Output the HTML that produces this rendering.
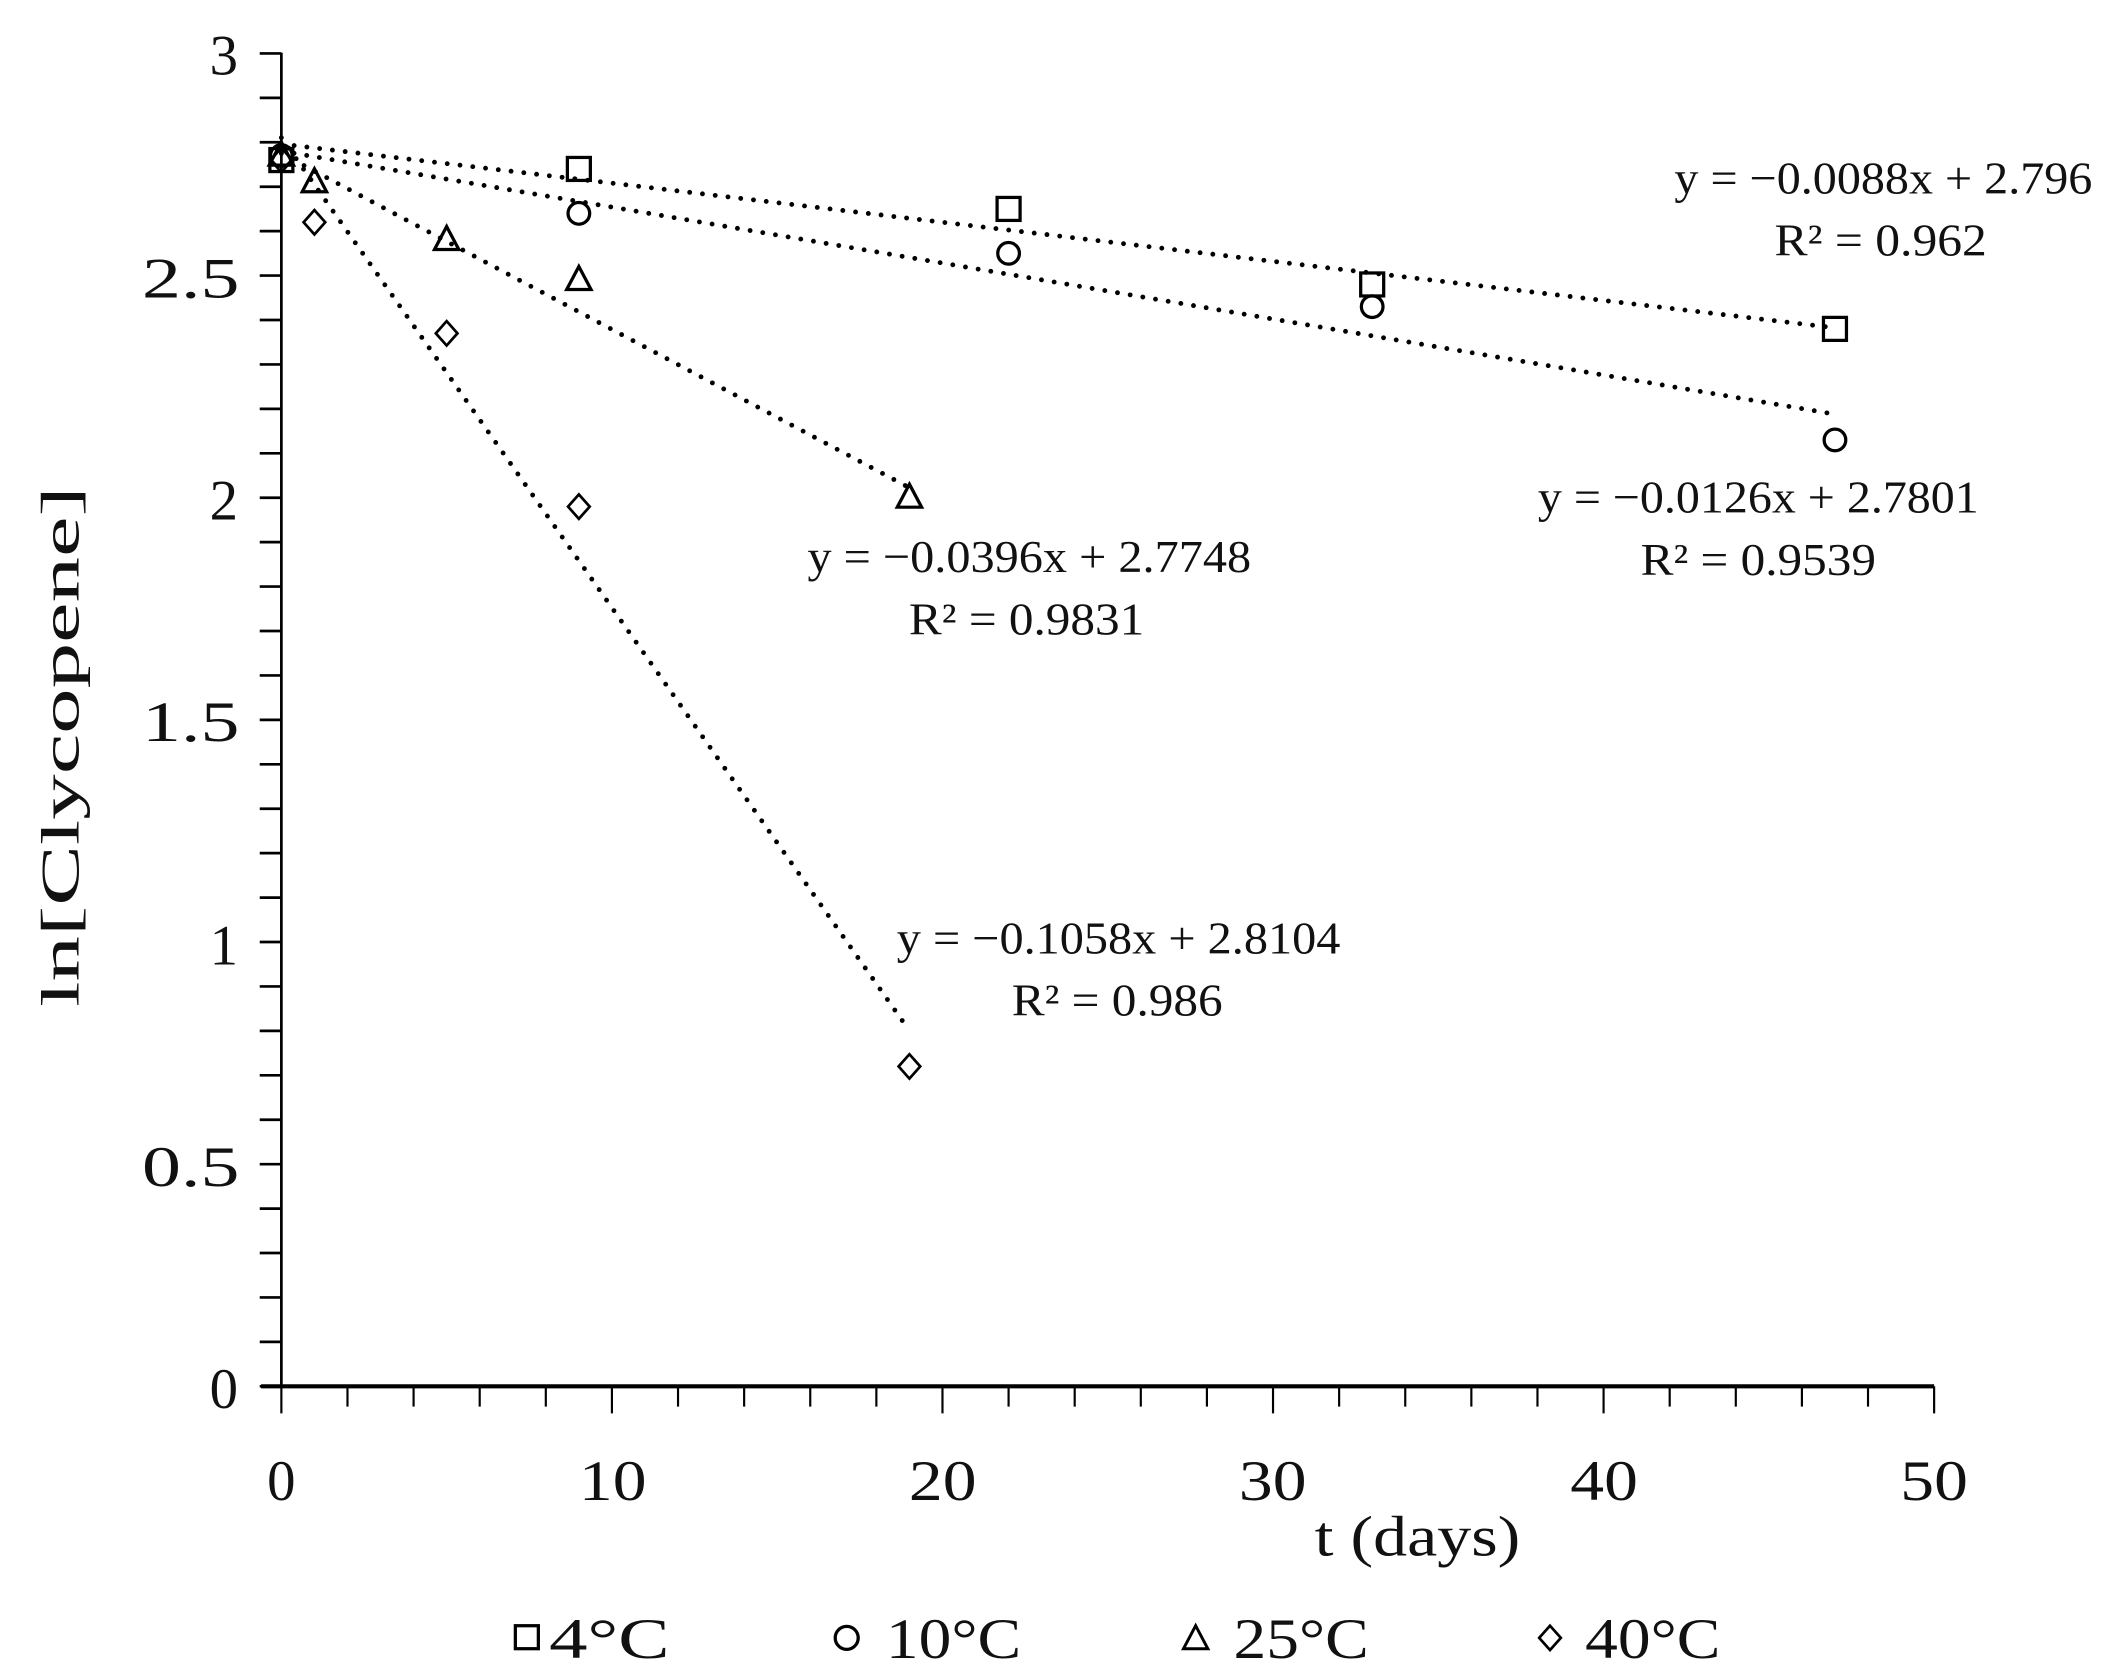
<!DOCTYPE html>
<html><head><meta charset="utf-8"><style>html,body{margin:0;padding:0;background:#fff}svg{display:block}</style></head>
<body>
<svg width="2110" height="1679" viewBox="0 0 1560 1241.4" xmlns="http://www.w3.org/2000/svg" font-family="Liberation Serif, serif">
<rect width="1560" height="1241.4" fill="#fff"/>
<g stroke="#000" stroke-width="2">
<line x1="208" y1="39" x2="208" y2="1026"/>
<line x1="193" y1="1025" x2="1430" y2="1025" stroke-width="3"/>
</g>
<g id="yt" stroke="#000" stroke-width="2"></g>
<g id="xt" stroke="#000" stroke-width="1.6"></g>
<g font-size="42" text-anchor="end" fill="#111">
<text x="176" y="55">3</text>
<text x="177" y="220" textLength="72" lengthAdjust="spacingAndGlyphs">2.5</text>
<text x="176" y="384">2</text>
<text x="177" y="548" textLength="72" lengthAdjust="spacingAndGlyphs">1.5</text>
<text x="176" y="713">1</text>
<text x="177" y="877" textLength="72" lengthAdjust="spacingAndGlyphs">0.5</text>
<text x="176" y="1041">0</text>
</g>
<g font-size="42" text-anchor="middle" fill="#111">
<text x="208" y="1109">0</text>
<text x="453" y="1109" textLength="50" lengthAdjust="spacingAndGlyphs">10</text>
<text x="697" y="1109" textLength="50" lengthAdjust="spacingAndGlyphs">20</text>
<text x="941" y="1109" textLength="50" lengthAdjust="spacingAndGlyphs">30</text>
<text x="1186" y="1109" textLength="50" lengthAdjust="spacingAndGlyphs">40</text>
<text x="1430" y="1109" textLength="50" lengthAdjust="spacingAndGlyphs">50</text>
<text x="1048" y="1150" textLength="152" lengthAdjust="spacingAndGlyphs">t (days)</text>
</g>
<text font-size="40" text-anchor="middle" transform="translate(58,552) rotate(-90)" fill="#111" textLength="385" lengthAdjust="spacingAndGlyphs">ln[Clycopene]</text>
<g id="lines" fill="none" stroke="#000" stroke-width="3.6" stroke-linecap="round" stroke-dasharray="0 9.5"></g>
<g id="pts" fill="none" stroke="#000" stroke-width="2.4"></g>
<g font-size="34" fill="#111">
<text x="1238" y="143" textLength="309" lengthAdjust="spacingAndGlyphs">y = −0.0088x + 2.796</text>
<text x="1312" y="189" textLength="157" lengthAdjust="spacingAndGlyphs">R² = 0.962</text>
<text x="1137" y="379" textLength="326" lengthAdjust="spacingAndGlyphs">y = −0.0126x + 2.7801</text>
<text x="1213" y="425" textLength="174" lengthAdjust="spacingAndGlyphs">R² = 0.9539</text>
<text x="597" y="423" textLength="328" lengthAdjust="spacingAndGlyphs">y = −0.0396x + 2.7748</text>
<text x="672" y="469" textLength="174" lengthAdjust="spacingAndGlyphs">R² = 0.9831</text>
<text x="663" y="705" textLength="328" lengthAdjust="spacingAndGlyphs">y = −0.1058x + 2.8104</text>
<text x="748" y="751" textLength="156" lengthAdjust="spacingAndGlyphs">R² = 0.986</text>
</g>
<g font-size="42" fill="#111">
<rect x="381" y="1202" width="17" height="17" fill="none" stroke="#000" stroke-width="2.4"/>
<text x="406" y="1226" textLength="89" lengthAdjust="spacingAndGlyphs">4°C</text>
<circle cx="626" cy="1211" r="8.5" fill="none" stroke="#000" stroke-width="2.4"/>
<text x="655" y="1226" textLength="100" lengthAdjust="spacingAndGlyphs">10°C</text>
<path d="M884 1202 L893 1219 L875 1219 Z" fill="none" stroke="#000" stroke-width="2.2"/>
<text x="912" y="1226" textLength="100" lengthAdjust="spacingAndGlyphs">25°C</text>
<path d="M1146 1202 L1154 1211 L1146 1220 L1138 1211 Z" fill="none" stroke="#000" stroke-width="2"/>
<text x="1172" y="1226" textLength="100" lengthAdjust="spacingAndGlyphs">40°C</text>
</g>
<script>
var NS="http://www.w3.org/2000/svg";
function X(d){return 208+d*24.44}function Y(v){return 1025-v*328.5}
function el(p,t,a){var e=document.createElementNS(NS,t);for(var k in a)e.setAttribute(k,a[k]);document.getElementById(p).appendChild(e);}
for(var i=0;i<=30;i++){var y=1025-i*32.85;el("yt","line",{x1:192,y1:y,x2:208,y2:y});}
for(var d=0;d<=50;d+=2){var x=X(d);el("xt","line",{x1:x,y1:1025,x2:x,y2:(d%10==0)?1045:1040});}
var L=[[-0.0088,2.796,47],[-0.0126,2.7801,47],[-0.0396,2.7748,19],[-0.1058,2.8104,19]];
L.forEach(function(l){el("lines","line",{x1:X(0),y1:Y(l[1]),x2:X(l[2]),y2:Y(l[1]+l[0]*l[2])});});
var S=[[0,2.76],[9,2.74],[22,2.65],[33,2.48],[47,2.38]];
var C=[[0,2.77],[9,2.64],[22,2.55],[33,2.43],[47,2.13]];
var T=[[0,2.77],[1,2.71],[5,2.58],[9,2.49],[19,2.0]];
var D=[[0,2.76],[1,2.62],[5,2.37],[9,1.98],[19,0.72]];
S.forEach(function(p){el("pts","rect",{x:X(p[0])-8.5,y:Y(p[1])-8.5,width:17,height:17});});
C.forEach(function(p){el("pts","circle",{cx:X(p[0]),cy:Y(p[1]),r:8});});
T.forEach(function(p){var x=X(p[0]),y=Y(p[1]);el("pts","path",{d:"M"+x+" "+(y-10)+" L"+(x+9)+" "+(y+7)+" L"+(x-9)+" "+(y+7)+" Z"});});
D.forEach(function(p){var x=X(p[0]),y=Y(p[1]);el("pts","path",{d:"M"+x+" "+(y-9)+" L"+(x+8)+" "+y+" L"+x+" "+(y+9)+" L"+(x-8)+" "+y+" Z","stroke-width":2});});
</script>
</svg>
</body></html>
